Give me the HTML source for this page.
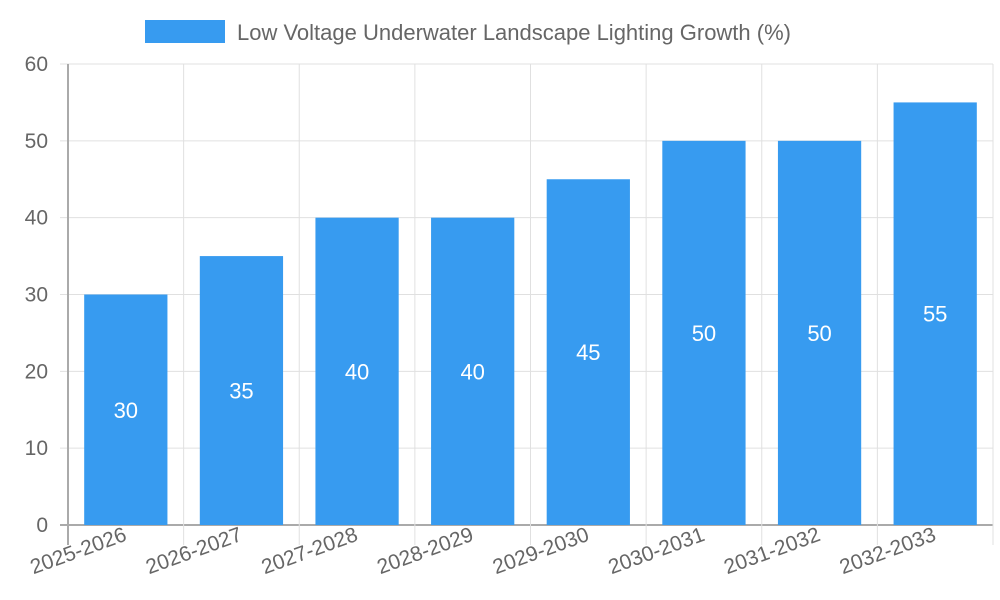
<!DOCTYPE html>
<html><head><meta charset="utf-8"><style>body{margin:0;background:#fff}svg{display:block;font-family:"Liberation Sans",sans-serif}</style></head>
<body>
<svg id="chart" width="1000" height="600" xmlns="http://www.w3.org/2000/svg">
<g>
<rect x="145" y="20" width="80" height="23" fill="#379bf0"/>
<text x="237" y="40" font-size="22" fill="#666">Low Voltage Underwater Landscape Lighting Growth (%)</text>
</g>
<g id="grid"></g><g id="bars"></g><g id="labels"></g>
</svg>
<script>
const categories=["2025-2026","2026-2027","2027-2028","2028-2029","2029-2030","2030-2031","2031-2032","2032-2033"];
const values=[30,35,40,40,45,50,50,55];
const yTicks=[0,10,20,30,40,50,60];
const L=68,R=993,T=64,B=525,yMax=60;
const ns="http://www.w3.org/2000/svg";
const y=v=>B-(v/yMax)*(B-T);
const bw=(R-L)/categories.length;
const x=i=>L+i*bw;
function mk(tag,attrs,parent){const e=document.createElementNS(ns,tag);for(const k in attrs)e.setAttribute(k,attrs[k]);document.getElementById(parent).appendChild(e);return e;}
yTicks.forEach(t=>{
 const g=mk('line',{x1:L-8,x2:R,y1:y(t),y2:y(t),stroke:t===0?'#aaa':'#e0e0e0','stroke-width':t===0?2:1},'grid');
 
 
 const tx=mk('text',{x:L-20,y:y(t)+7,'text-anchor':'end','font-size':21,fill:'#666'},'grid');
 tx.textContent=t;
 
 
});
for(let i=0;i<=categories.length;i++){
 const g=mk('line',{x1:x(i),x2:x(i),y1:T,y2:B+20,stroke:i===0?'#aaa':'#e0e0e0','stroke-width':i===0?2:1},'grid');
 
 
}
categories.forEach((c,i)=>{
 const cx=x(i)+bw/2, w=bw*0.72;
 const r=mk('rect',{x:cx-w/2,y:y(values[i]),width:w,height:B-y(values[i]),fill:'#379bf0'},'bars');
 
 
 const v=mk('text',{x:cx,y:(y(values[i])+B)/2+8,'text-anchor':'middle','font-size':22,fill:'#fff'},'labels');
 v.textContent=values[i];
 
 
 const t=mk('text',{x:cx+2,y:540,'text-anchor':'end','font-size':21,fill:'#666',transform:`rotate(-20 ${cx+2} 540)`},'labels');
 t.textContent=c;
 
 
});
</script>
</body></html>
